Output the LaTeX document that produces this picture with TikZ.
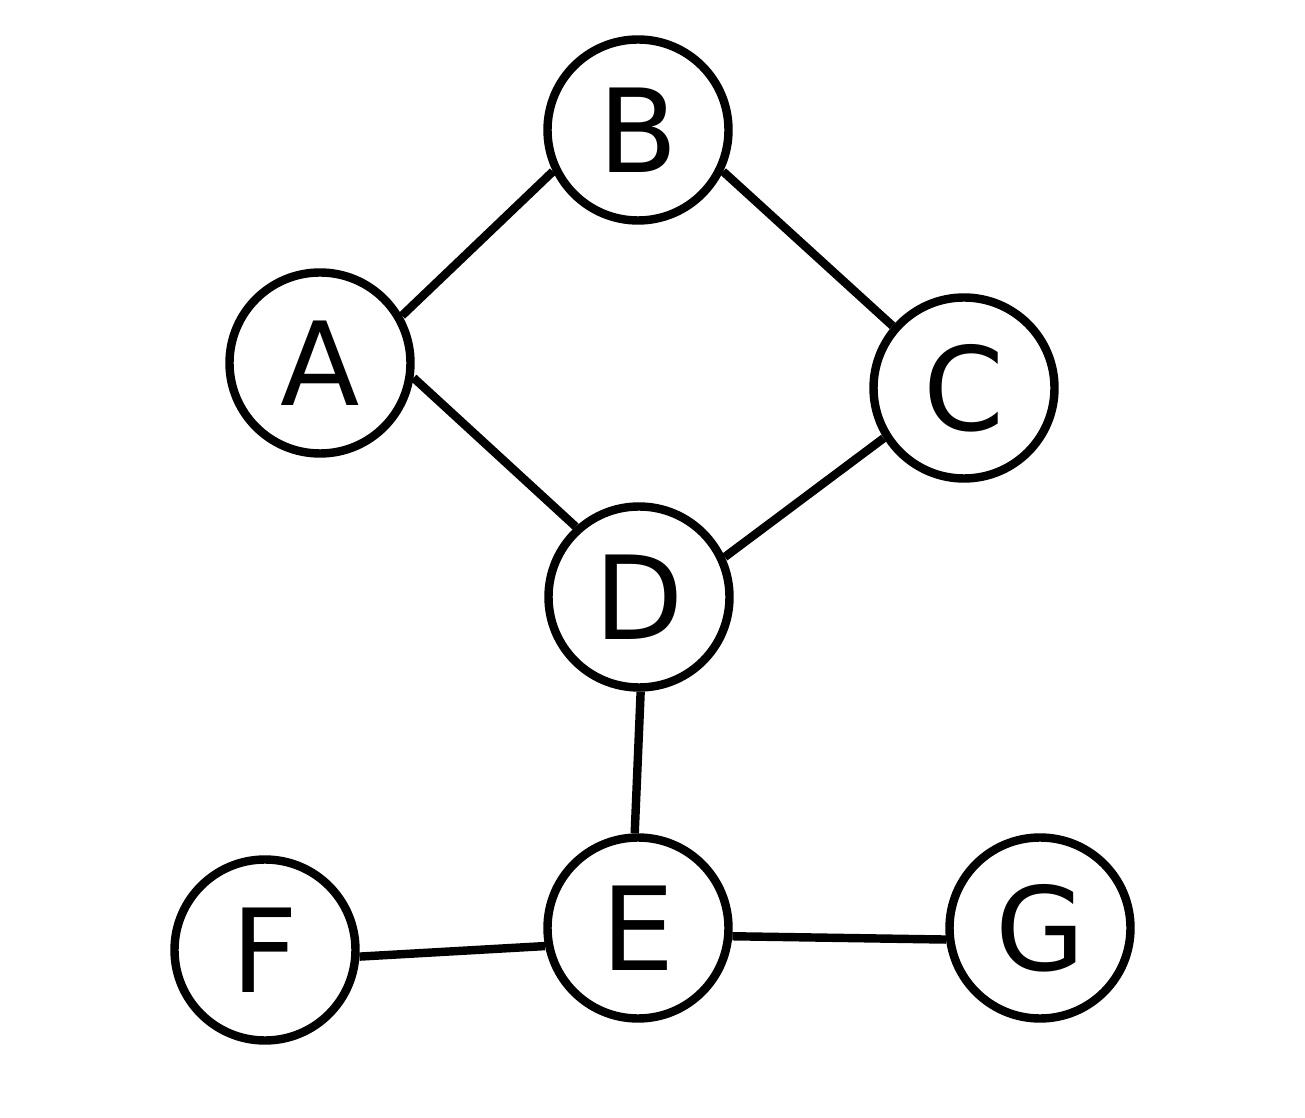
\documentclass[tikz,border=0pt]{standalone}
\usepackage{fontspec}
\setmainfont{DejaVu Sans}
\usetikzlibrary{positioning}

\begin{document}
\begin{tikzpicture}[
    vertex/.style={
        circle, draw=black, line width=2.4pt, minimum size=1.81cm,
        inner sep=0pt, font=\fontsize{33}{36}\selectfont
    },
    edge/.style={black, line width=2.4pt}
]
    \useasboundingbox (0, 0) rectangle (13.05, 11.17);

    \node[vertex] (A) at (3.20, 7.54)  {A};
    \node[vertex] (B) at (6.38, 9.87)  {B};
    \node[vertex] (C) at (9.64, 7.29)  {C};
    \node[vertex] (D) at (6.39, 5.20)  {D};
    \node[vertex] (E) at (6.38, 1.89)  {E};
    \node[vertex] (F) at (2.65, 1.67)  {F};
    \node[vertex] (G) at (10.40, 1.89) {G};

    \draw[edge] (A.30)  -- (B.206);
    \draw[edge] (B.334) -- (C.139);
    \draw[edge] (A.351) -- (D.132);
    \draw[edge] (C.212) -- (D.25);
    \draw[edge] (D.271) -- (E.92);
    \draw[edge] (F.356) -- (E.191);
    \draw[edge] (E.355) -- (G.187);
\end{tikzpicture}
\end{document}
